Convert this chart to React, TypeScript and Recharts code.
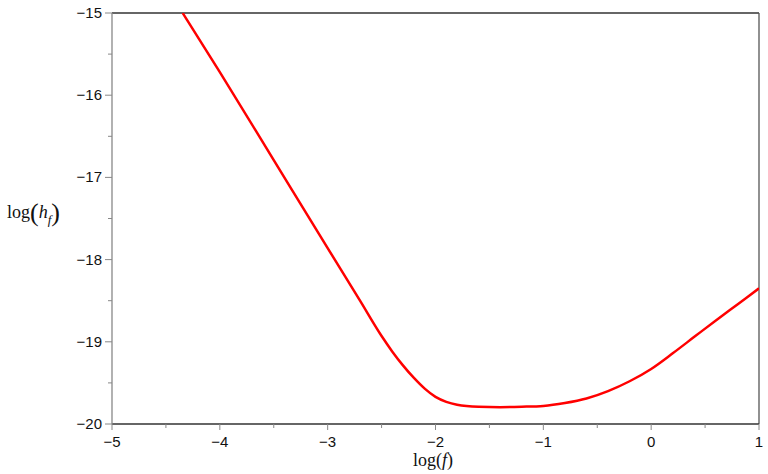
import React from "react";
import { LineChart, Line, XAxis, YAxis, ReferenceLine } from "recharts";

const logF = [-4.345, -4.0, -3.5, -3.0, -2.7, -2.5, -2.4, -2.3, -2.2, -2.1, -2.0, -1.9, -1.8, -1.6, -1.4, -1.2, -1.0, -0.8, -0.6, -0.4, -0.2, 0.0, 0.2, 0.4, 0.6, 0.8, 1.0];
const logH = [-15.0, -15.72, -16.79, -17.86, -18.5, -18.93, -19.12, -19.29, -19.44, -19.57, -19.67, -19.73, -19.765, -19.79, -19.795, -19.79, -19.78, -19.745, -19.69, -19.6, -19.48, -19.33, -19.14, -18.94, -18.74, -18.545, -18.35];

const xTicks = [-5, -4.5, -4, -3.5, -3, -2.5, -2, -1.5, -1, -0.5, 0, 0.5, 1];
const yTicks = [-20, -19.5, -19, -18.5, -18, -17.5, -17, -16.5, -16, -15.5, -15];

const data = logF.map((x, i) => ({ x, y: logH[i] }));

const fmt = (v: number) => (v < 0 ? "\u2212" + Math.abs(v) : String(v));

const XTick = (props: any) => {
  const { x, y, payload } = props;
  const v = payload.value as number;
  const major = Number.isInteger(v);
  return (
    <g>
      <line x1={x} x2={x} y1={y} y2={y + (major ? 6 : 4)} stroke="#888" strokeWidth={1} />
      {major && (
        <text x={x} y={y + 23} textAnchor="middle" fontFamily="Liberation Sans, Arial, sans-serif" fontSize={15} fill="#111">
          {fmt(v)}
        </text>
      )}
    </g>
  );
};

const YTick = (props: any) => {
  const { x, y, payload } = props;
  const v = payload.value as number;
  const major = Number.isInteger(v);
  return (
    <g>
      <line x1={x - (major ? 7 : 4)} x2={x} y1={y} y2={y} stroke="#888" strokeWidth={1} />
      {major && (
        <text x={x - 10} y={y + 5} textAnchor="end" fontFamily="Liberation Sans, Arial, sans-serif" fontSize={15} fill="#111">
          {fmt(v)}
        </text>
      )}
    </g>
  );
};

const serif = "Liberation Serif, Times New Roman, serif";

export default function App() {
  return (
    <div style={{ position: "absolute", left: 0, top: 0, width: 768, height: 474, background: "#fff" }}>
      <LineChart width={768} height={474} data={data} margin={{ top: 13, right: 9, bottom: 10, left: 0 }}>
        <XAxis
          dataKey="x"
          type="number"
          domain={[-5, 1]}
          ticks={xTicks}
          interval={0}
          tickLine={false}
          tickSize={0}
          tickMargin={0}
          axisLine={{ stroke: "#333", strokeWidth: 1.3 }}
          tick={<XTick />}
          height={40}
          allowDataOverflow
        />
        <YAxis
          dataKey="y"
          type="number"
          domain={[-20, -15]}
          ticks={yTicks}
          interval={0}
          tickLine={false}
          tickSize={0}
          tickMargin={0}
          axisLine={{ stroke: "#888", strokeWidth: 1.3 }}
          tick={<YTick />}
          width={112}
          allowDataOverflow
        />
        <ReferenceLine y={-15} stroke="#333" strokeWidth={1.3} />
        <ReferenceLine x={1} stroke="#555" strokeWidth={1.3} />
        <Line
          dataKey="y"
          type="monotone"
          stroke="#ff0000"
          strokeWidth={2.5}
          dot={false}
          isAnimationActive={false}
        />
      </LineChart>
      <div style={{ position: "absolute", left: 7, top: 200, fontFamily: serif, fontSize: 18, color: "#111", whiteSpace: "nowrap", lineHeight: "24px" }}>
        log
        <span style={{ fontSize: 26, verticalAlign: "-3px" }}>(</span>
        <i>h</i>
        <sub style={{ fontSize: 13, fontStyle: "italic", verticalAlign: "-6px" }}>f</sub>
        <span style={{ fontSize: 26, verticalAlign: "-3px" }}>)</span>
      </div>
      <div style={{ position: "absolute", left: 413, top: 450, fontFamily: serif, fontSize: 18, color: "#111", whiteSpace: "nowrap", lineHeight: "20px" }}>
        log(<i>f</i>)
      </div>
    </div>
  );
}
